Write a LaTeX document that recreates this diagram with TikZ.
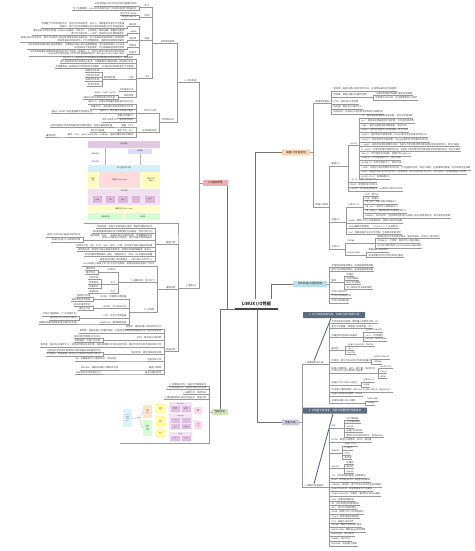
\documentclass[tikz,border=0pt]{standalone}
\usepackage{fontspec}
\newfontfamily\cjk{Noto Sans CJK SC}
\definecolor{cA}{HTML}{F2AEAE}
\definecolor{cO}{HTML}{F9D2AC}
\definecolor{cL}{HTML}{B3E0EA}
\definecolor{cD}{HTML}{5E6982}
\definecolor{cP}{HTML}{C9C5DE}
\definecolor{cG}{HTML}{D2E4B4}
\tikzset{
  every node/.style={font=\cjk\fontsize{2.3}{2.75}\selectfont},
  ul/.style={draw=black!40,line width=0.22pt},
  cn/.style={draw=black!40,line width=0.22pt},
  mcn/.style={draw=black!55,line width=0.5pt},
  lf/.style={inner xsep=0.5pt,inner ysep=0.45pt,text=black!72,
    append after command={(\tikzlastnode.south west) edge[ul] (\tikzlastnode.south east)}},
  topic/.style={font=\cjk\fontsize{2.6}{3}\selectfont,inner xsep=1pt,inner ysep=0.6pt,
    minimum height=5.6pt,rounded corners=0.5pt,text=black!85},
  dbox/.style={topic,fill=cD,text=white,minimum height=6pt},
  diag/.style={draw=cD,line width=0.9pt},
  im/.style={font=\cjk\fontsize{1.8}{2.1}\selectfont,inner sep=0pt,text=black!75,align=center},
  imt/.style={font=\cjk\fontsize{1.2}{1.45}\selectfont,inner sep=0pt,text=black!70,align=center},
}
\newcommand\LL[5]{\node[lf,anchor=south east,align=right] (#1) at (#3,#4) {#5};
  \draw[cn] (#2) -| ([xshift=2pt]#1.south east) -- (#1.south east);}
\newcommand\RL[5]{\node[lf,anchor=south west,align=left] (#1) at (#3,#4) {#5};
  \draw[cn] (#2) -| ([xshift=-2pt]#1.south west) -- (#1.south west);}
\begin{document}
\begin{tikzpicture}[x=1pt,y=-1pt]
\fill[white] (0,0) rectangle (474,551);
\useasboundingbox (0,0) rectangle (474,551);

% ---------- centre ----------
\node[font=\cjk\fontsize{4.3}{5}\selectfont\bfseries,inner xsep=7pt,inner ysep=2.6pt,text=black!85,anchor=south] (C) at (256.5,309) {LINUX I/O性能};
\draw[line width=1.1pt,black!72] (C.south west) -- (C.south east);

% ---------- main topics ----------
\node[topic,fill=cA,minimum width=25pt] (A) at (215.5,183) {I/O基础原理};
\node[topic,fill=cG,minimum width=16pt] (G) at (220,412) {性能优化};
\node[topic,fill=cO,minimum width=28pt] (O) at (296,152.5) {磁盘I/O性能观测};
\node[topic,fill=cL,minimum width=34pt] (L) at (310,284) {文件系统I/O性能观测};
\node[topic,fill=cP,minimum width=17pt] (P) at (290.5,422.5) {性能工具};
\node[dbox,minimum width=62pt] (D1) at (334,315) {1. 从I/O性能指标出发，找到对应的性能工具};
\node[dbox,minimum width=64pt] (D2) at (335,410.5) {2. 从性能工具出发，找到工具提供的性能指标};

\draw[mcn] ([xshift=-1pt]C.north) |- (O.west);
\draw[mcn] ([xshift=1pt]C.south) |- (P.west);
\draw[mcn] ([xshift=-7pt]C.north east) |- (L.west);
\draw[mcn] (C.south west) -| ([xshift=-1pt]A.south east);
\draw[mcn] (C.south west) -| (G.north);

% ================= RIGHT: disk =================
\RL{O1}{O.east}{315}{103}{磁盘性能指标}
\RL{O2}{O.east}{315}{207}{磁盘I/O观测}
\RL{o11}{O1.south east}{333}{91}{使用率：磁盘处理I/O的时间百分比，过高意味着存在性能瓶颈}
\RL{o12}{O1.south east}{333}{97}{饱和度：磁盘处理I/O的繁忙程度}
\RL{o121}{o12.south east}{375}{95}{过高的饱和度意味着严重的性能瓶颈}
\RL{o122}{o12.south east}{375}{100}{饱和度为100\%时，无法接受新的I/O请求}
\RL{o13}{O1.south east}{333}{104}{IOPS：每秒的I/O请求数}
\RL{o14}{O1.south east}{333}{109}{吞吐量：每秒的I/O请求大小}
\RL{o15}{O1.south east}{333}{114}{响应时间：从发出I/O请求到收到响应的间隔时间}

\RL{o21}{O2.south east}{331}{166}{磁盘I/O}
\RL{o22}{O2.south east}{331}{222}{进程I/O}
\RL{o23}{O2.south east}{331}{249}{文件I/O}
\RL{ios}{o21.south east}{350}{145}{iostat}
\RL{o212}{o21.south east}{350}{182}{sar -d：磁盘I/O历史统计}
\RL{o213}{o21.south east}{350}{187}{dstat：综合观测CPU和I/O}
\RL{o214}{o21.south east}{350}{191}{vmstat：bi/bo块设备读写，wa等待I/O的CPU时间}
\RL{r1}{ios.south east}{361}{118}{r/s：每秒发送给磁盘的读请求数，合并后的请求数}
\RL{r2}{ios.south east}{361}{123}{w/s：每秒发送给磁盘的写请求数，合并后的请求数}
\RL{r3}{ios.south east}{361}{128}{rkB/s：每秒从磁盘读取的数据量，单位为kB}
\RL{r4}{ios.south east}{361}{132}{wkB/s：每秒向磁盘写入的数据量，单位为kB}
\RL{r5}{ios.south east}{361}{137}{rrqm/s：每秒合并的读请求数，\%rrqm表示合并读请求的百分比}
\RL{r6}{ios.south east}{361}{142}{wrqm/s：每秒合并的写请求数，\%wrqm表示合并写请求的百分比}
\RL{r7}{ios.south east}{361}{146}{r\_await：读请求处理完成等待时间，包括队列中的等待时间和设备实际处理的时间，单位为毫秒}
\RL{r8}{ios.south east}{361}{151}{w\_await：写请求处理完成等待时间，包括队列中的等待时间和设备实际处理的时间，单位为毫秒}
\RL{r9}{ios.south east}{361}{156}{aqu-sz：平均请求队列长度，旧版中为avgqu-sz}
\RL{r10}{ios.south east}{361}{160}{rareq-sz：平均读请求大小，单位为kB}
\RL{r11}{ios.south east}{361}{165}{wareq-sz：平均写请求大小，单位为kB}
\RL{r12}{ios.south east}{361}{170}{svctm：处理I/O请求所需的平均时间，不包括等待时间，单位为毫秒；这是推断的数据，并不保证完全准确}
\RL{r13}{ios.south east}{361}{174}{\%util：磁盘处理I/O的时间百分比，即使用率，由于可能存在并行I/O，100\%并不一定表明磁盘I/O饱和}
\RL{r14}{ios.south east}{361}{179}{iostat -d -x 1：查看磁盘I/O}

\RL{pds}{o22.south east}{348}{207}{pidstat -d}
\RL{pd1}{pds.south east}{365}{196}{UID：用户ID}
\RL{pd2}{pds.south east}{365}{200}{PID：进程ID}
\RL{pd3}{pds.south east}{365}{204}{kB\_rd/s：每秒读取的数据大小}
\RL{pd4}{pds.south east}{365}{209}{kB\_wr/s：每秒写入的数据大小}
\RL{pd5}{pds.south east}{365}{213}{kB\_ccwr/s：每秒取消的写请求数据大小}
\RL{pd6}{pds.south east}{365}{218}{iodelay：块I/O延迟，包括等待同步块I/O和换入块I/O结束的时间，单位是时钟周期}
\RL{o222}{o22.south east}{348}{223}{iotop：按照I/O大小对进程排序，找到I/O较大的进程}
\RL{o223}{o22.south east}{348}{228.5}{strace跟踪系统调用}
\RL{o2231}{o223.south east}{373}{228.5}{strace -f -T -tt -p 进程号}
\RL{o224}{o22.south east}{348}{234}{lsof：查看进程打开的文件列表，包括目录和套接字}

\RL{fto}{o23.south east}{347}{243}{filetop}
\RL{ft1}{fto.south east}{377}{238}{跟踪内核中文件的读写情况，输出线程ID、读写大小和文件名}
\RL{ft2}{fto.south east}{377}{243}{filetop -C：不清屏，按读写大小排序输出}
\RL{ft3}{fto.south east}{377}{248}{位于bcc软件包的/usr/share/bcc/tools目录}
\RL{ops}{o23.south east}{347}{255}{opensnoop}
\RL{op1}{ops.south east}{368}{252}{跟踪open系统调用}
\RL{op2}{ops.south east}{368}{257}{找出频繁打开的文件及其所在路径}

% ================= RIGHT: file system =================
\RL{l1}{L.east}{331}{267}{存储空间的使用情况，包括容量和使用量}
\RL{l2}{L.east}{331}{271}{索引节点的使用情况，包括容量和使用量}
\RL{l3}{L.east}{331}{282}{缓存}
\RL{l31}{l3.south east}{346}{276}{页缓存}
\RL{l32}{l3.south east}{346}{280}{目录项缓存}
\RL{l33}{l3.south east}{346}{284}{索引节点缓存}
\RL{l34}{l3.south east}{346}{289}{各个具体文件系统的缓存}
\RL{l4}{L.east}{331}{294}{文件I/O的IOPS}
\RL{l5}{L.east}{331}{298}{文件I/O的响应时间}
\RL{l6}{L.east}{331}{303}{文件I/O的吞吐量}

% ================= RIGHT: tools =================
\RL{P1}{P.east}{304}{364}{1. 根据指标找工具}
\RL{P2}{P.east}{304}{487}{2. 根据工具查指标}
\draw[diag] ([xshift=-3pt]D1.south) -- (P1.north);
\draw[diag] ([xshift=-2pt]D2.south) -- (P2.north);

\RL{p11}{P1.south east}{331}{323}{文件系统空间容量、使用量以及剩余空间：df}
\RL{p12}{P1.south east}{331}{328}{索引节点容量、使用量以及剩余量：df -i}
\RL{p13}{P1.south east}{331}{337}{页缓存和可回收Slab缓存}
\RL{p131}{p13.south east}{365}{332}{/proc/meminfo}
\RL{p132}{p13.south east}{365}{337}{sar -r：内存使用}
\RL{p133}{p13.south east}{365}{341}{vmstat：buff/cache}
\RL{p14}{P1.south east}{331}{350}{缓冲区}
\RL{p141}{p14.south east}{347}{346.5}{/proc/meminfo：Buffers}
\RL{p142}{p14.south east}{347}{350.5}{sar -r}
\RL{p143}{p14.south east}{347}{354.5}{vmstat}
\RL{p15}{P1.south east}{331}{362}{目录项、索引节点以及文件系统的缓存}
\RL{p151}{p15.south east}{373}{359}{/proc/slabinfo}
\RL{p152}{p15.south east}{373}{364}{slabtop}
\RL{p16}{P1.south east}{331}{373}{磁盘I/O使用率、IOPS、吞吐量、响应时间、\\I/O平均大小以及等待队列长度}
\RL{p161}{p16.south east}{380}{368}{iostat -d -x}
\RL{p162}{p16.south east}{380}{373}{sar -d}
\RL{p163}{p16.south east}{380}{378}{dstat}
\RL{p17}{P1.south east}{331}{385}{进程I/O大小以及I/O延迟}
\RL{p171}{p17.south east}{363}{382}{pidstat -d}
\RL{p172}{p17.south east}{363}{387}{iotop}
\RL{p18}{P1.south east}{331}{392}{块设备I/O事件跟踪：blktrace -d /dev/sdb -o- | blkparse -i-}
\RL{p19}{P1.south east}{331}{396}{进程I/O系统调用跟踪：strace}
\RL{p1a}{P1.south east}{331}{403}{进程块设备I/O大小跟踪}
\RL{p1a1}{p1a.south east}{367}{401}{biosnoop}
\RL{p1a2}{p1a.south east}{367}{405}{biotop}

\RL{q1}{P2.south east}{331}{428}{top}
\RL{q11}{q1.south east}{346}{420}{CPU使用率}
\RL{q12}{q1.south east}{346}{423.5}{内存使用情况}
\RL{q13}{q1.south east}{346}{428}{iowait}
\RL{q14}{q1.south east}{346}{432}{进程CPU和内存}
\RL{q15}{q1.south east}{346}{437}{整体CPU时间的百分比，包括iowait}
\RL{q2}{P2.south east}{331}{442}{iostat：磁盘I/O使用率、IOPS、吞吐量}
\RL{q3}{P2.south east}{331}{453}{pidstat}
\RL{q31}{q3.south east}{344}{446}{进程I/O大小}
\RL{q32}{q3.south east}{344}{450}{I/O延迟}
\RL{q33}{q3.south east}{344}{455}{IOPS}
\RL{q34}{q3.south east}{344}{459}{吞吐量}
\RL{q4}{P2.south east}{331}{468}{vmstat}
\RL{q41}{q4.south east}{346}{464}{页缓存}
\RL{q42}{q4.south east}{346}{468}{缓冲区}
\RL{q43}{q4.south east}{346}{473}{iowait}
\RL{q5}{P2.south east}{331}{478}{sar：文件系统和磁盘I/O使用情况}
\RL{q6}{P2.south east}{331}{482}{dstat：综合观测CPU、磁盘I/O和网络}
\RL{q7}{P2.south east}{331}{487}{slabtop：目录项、索引节点以及文件系统的缓存}
\RL{q8}{P2.south east}{331}{491}{/proc/slabinfo：目录项和索引节点缓存}
\RL{q9}{P2.south east}{331}{496}{/proc/meminfo：页缓存、缓冲区以及Slab缓存}
\RL{q10}{P2.south east}{331}{501}{free：页缓存和缓冲区}
\RL{q11b}{P2.south east}{331}{505}{df：文件系统空间使用情况}
\RL{q12b}{P2.south east}{331}{509}{df -i：索引节点使用情况}
\RL{q13b}{P2.south east}{331}{514}{iotop：按照I/O大小对进程排序}
\RL{q14b}{P2.south east}{331}{518}{strace：跟踪进程系统调用}
\RL{q15b}{P2.south east}{331}{523}{lsof：进程打开的文件}
\RL{q16}{P2.south east}{331}{527}{filetop：跟踪文件的读写情况}
\RL{q17}{P2.south east}{331}{532}{opensnoop：跟踪open系统调用}
\RL{q18}{P2.south east}{331}{536}{biosnoop：块I/O延迟}
\RL{q19}{P2.south east}{331}{541}{biotop：块I/O大小}
\RL{q20}{P2.south east}{331}{546}{blktrace：块设备I/O事件}

% ================= LEFT: basics =================
\LL{A1}{A.west}{197}{82}{1. 文件系统}
\LL{A4}{A.west}{197}{288}{2. 磁盘I/O}

\LL{B11}{A1.south west}{175}{43}{文件系统基础}
\LL{B12}{A1.south west}{175}{122}{文件系统I/O}

\LL{C1}{B11.south west}{150}{7}{定义}
\LL{C2}{B11.south west}{150}{17}{结构}
\LL{C3}{B11.south west}{150}{40}{组成}
\LL{C4}{B11.south west}{150}{78}{VFS}
\LL{c11}{C1.south west}{137}{5.7}{对存储设备上的文件进行组织管理的机制}
\LL{c12}{C1.south west}{137}{10}{为了方便管理，Linux文件系统为每个文件都分配两个数据结构}
\LL{c21}{C2.south west}{137}{15}{索引节点 inode}
\LL{c22}{C2.south west}{137}{19}{目录项 dentry}
\LL{c31}{C3.south west}{137}{26}{超级块}
\LL{c32}{C3.south west}{137}{33}{inode}
\LL{c33}{C3.south west}{137}{40}{目录项}
\LL{c34}{C3.south west}{137}{47}{逻辑块}
\LL{c35}{C3.south west}{137}{54}{挂载点}
\LL{c311}{c31.south west}{125}{28}{存储整个文件系统的状态，包括文件系统类型、块大小、块数量以及索引节点数量\\超级块、索引节点区和数据块区共同构成磁盘上的文件系统格式}
\LL{c321}{c32.south west}{125}{35}{用来记录文件的元数据，比如inode编号、文件大小、访问权限、修改日期、数据的位置等\\索引节点和文件一一对应，会被持久化存储到磁盘中}
\LL{c331}{c33.south west}{125}{42}{用来记录文件的名字、索引节点指针以及与其他目录项的关联关系，多个关联的目录项构成了目录结构\\目录项是由内核维护的一个内存数据结构，通常也叫做目录项缓存}
\LL{c341}{c34.south west}{125}{49}{文件系统把连续的扇区组成逻辑块，以逻辑块为最小单元来管理数据，常见的逻辑块大小为4KB\\由连续的8个扇区组成，可以提高磁盘的读写效率}
\LL{c351}{c35.south west}{125}{56}{文件系统需要先挂载到目录树中的某个子目录（挂载点）上，然后才能访问其中的文件和目录\\mount命令把块设备上的文件系统挂载到目录，如 mount /dev/sdb1 /data}

\LL{c41}{C4.south west}{134}{59}{VFS定义了一组所有文件系统都支持的数据结构和标准接口，屏蔽差异}
\LL{c42}{C4.south west}{134}{63}{用户进程和内核中的其他子系统，只需要跟VFS提供的统一接口进行交互}
\LL{c43}{C4.south west}{134}{68}{不需要再关心底层各种文件系统的实现细节，VFS通过目录项和索引节点管理}
\LL{c44}{C4.south west}{134}{79}{分类}
\LL{c441}{c44.south west}{116}{79}{按存储位置}
\LL{c4411}{c441.south west}{100}{72}{磁盘文件系统}
\LL{c4412}{c441.south west}{100}{77}{内存文件系统}
\LL{c4413}{c441.south west}{100}{81}{网络文件系统}
\LL{c4414}{c441.south west}{100}{86}{伪文件系统}
\LL{c45}{C4.south west}{134}{91}{文件读写方式}
\LL{c46}{C4.south west}{134}{97}{系统调用}
\LL{c461}{c46.south west}{116}{95}{open、read、write}
\LL{c462}{c46.south west}{116}{99.5}{通过VFS转交给具体的文件系统}

\LL{F1}{B12.south west}{157}{113}{文件I/O分类}
\LL{F2}{B12.south west}{157}{132}{文件系统观测}
\LL{f11}{F1.south west}{134}{104}{缓冲I/O：利用标准库缓存来加速文件的访问}
\LL{f12}{F1.south west}{134}{109}{非缓冲I/O：直接通过系统调用来访问文件}
\LL{f13}{F1.south west}{134}{113}{直接I/O：跳过操作系统的页缓存}
\LL{f131}{f13.south west}{93}{113}{通过O\_DIRECT标志直接跟文件系统交互}
\LL{f14}{F1.south west}{134}{118}{阻塞/非阻塞I/O}
\LL{f15}{F1.south west}{134}{122}{同步与异步I/O：是否等待响应}
\LL{f21}{F2.south west}{134}{127}{容量：df -h}
\LL{f211}{f21.south west}{113}{127}{df命令查看文件系统的磁盘空间使用情况，包括总量和剩余量}
\LL{f22}{F2.south west}{134}{132}{索引节点：df -i}
\LL{f221}{f22.south west}{105}{132}{索引节点容量}
\LL{f23}{F2.south west}{134}{137}{缓存：free、/proc/meminfo、slabtop，查看页缓存和Slab缓存}
\LL{f231}{f23.south west}{56}{137}{缓存观测}

% ---- I/O stack picture ----
\node[inner sep=0pt,minimum width=77pt,minimum height=83pt] (IMG) at (122.5,181.5) {};
\draw[ul] (IMG.south west) -- (IMG.south east);
\fill[yellow!8] (88,141) rectangle (160,220);
\fill[violet!22] (88,141) rectangle (160,147.5);
\node[im] (i1) at (124,144.2) {应用程序};
\fill[white] (88,147.5) rectangle (160,165);
\draw[black!30,line width=0.2pt] (105,147.5) -- (105,165);
\draw[black!30,line width=0.2pt] (140,154) -- (140,165);
\node[im] (i2) at (95,154) {系统调用};
\node[im] (i3) at (95,161.5) {文件读写};
\fill[blue!14] (128,148.5) rectangle (152,154);
\node[im] (i4) at (140,151.2) {标准库};
\fill[cyan!18] (88,165) rectangle (160,171.5);
\node[im] (i5) at (124,168.2) {VFS 虚拟文件系统};
\fill[yellow!28] (88,172) rectangle (98,188);
\node[im] (i6) at (93,180) {目录\\项};
\fill[pink!55] (99,172) rectangle (140,188);
\node[im] (i7) at (119.5,180) {页缓存 Page Cache};
\fill[yellow!28] (142,172) rectangle (160,188);
\node[im] (i8) at (151,180) {索引节点\\缓存};
\fill[violet!12] (88,189) rectangle (160,205);
\node[im] (i9) at (124,191.3) {文件系统};
\fill[violet!28] (93,196) rectangle (102,203); \node[im] (fs1) at (97.5,199.5) {ext4};
\fill[violet!28] (106,196) rectangle (115,203); \node[im] (fs2) at (110.5,199.5) {XFS};
\fill[violet!28] (118,196) rectangle (128,203); \node[im] (fs3) at (123,199.5) {NFS};
\fill[violet!28] (132,196) rectangle (140,203); \node[im] (fs4) at (136,199.5) {...};
\fill[violet!28] (145,196) rectangle (155,203); \node[im] (fs5) at (150,199.5) {proc};
\fill[yellow!22] (88,206) rectangle (160,212);
\node[im] (i10) at (124,209) {通用块层 Block Layer};
\fill[green!18] (88,213) rectangle (123,220); \node[im] (i11) at (105.5,216.5) {设备驱动层};
\fill[green!18] (125,213) rectangle (160,220); \node[im] (i12) at (142.5,216.5) {块设备};

\LL{A41}{A4.south west}{176}{244}{磁盘分类}
\LL{A42}{A4.south west}{176}{289}{通用块层}
\LL{A43}{A4.south west}{176}{351}{性能指标}
\draw[cn] (A4.south west) -| ([xshift=2pt]A41.south east) |- (IMG.south east);

\LL{a411}{A41.south west}{153}{228}{机械磁盘：由盘片和读写磁头组成，数据存储在磁道中}
\LL{a412}{A41.south west}{153}{233}{读写前需要移动磁头定位到数据所在的磁道，然后才能访问}
\LL{a413}{A41.south west}{153}{240}{固态磁盘（SSD）：由固态电子元器件组成，不需要磁道寻址\\连续I/O比随机I/O性能好，都可以通过预读来提升}
\LL{a4131}{a413.south west}{81}{237}{连续I/O可以减少磁道寻址的时间}
\LL{a4132}{a413.south west}{81}{242}{预读可以减少I/O请求的次数}
\LL{a414}{A41.south west}{153}{247}{按接口分类：IDE、SCSI、SAS、SATA、FC等，会分配不同的设备名称前缀}
\LL{a415}{A41.south west}{153}{251}{按架构分类：直接作为独立磁盘设备使用，或者组合成逻辑磁盘（RAID）}
\LL{a416}{A41.south west}{153}{256}{作为网络存储集群的一部分，再通过NFS、SMB、iSCSI等协议暴露}
\LL{a417}{A41.south west}{153}{261}{磁盘读写的最小单位是扇区，一般只有512字节大小}

\LL{K0}{A42.south west}{155}{266}{Linux存储I/O栈由上到下分为文件系统层、通用块层和设备层三个层次}
\LL{K1}{A42.south west}{155}{282}{1. 通用块层：承上启下}
\LL{K2}{A42.south west}{155}{312}{2. I/O调度}
\LL{k11}{K1.south west}{116}{272}{I/O排队}
\LL{k111}{k11.south west}{96}{270}{重新排序}
\LL{k112}{k11.south west}{96}{274}{请求合并}
\LL{k12}{K1.south west}{116}{284}{向上}
\LL{k121}{k12.south west}{99}{279}{文件系统}
\LL{k122}{k12.south west}{99}{284}{应用程序}
\LL{k123}{k12.south west}{99}{288}{标准接口}
\LL{k13}{K1.south west}{116}{293}{向下}
\LL{k131}{k13.south west}{99}{293}{设备驱动}
\LL{k21}{K2.south west}{127}{299}{NONE：不使用I/O调度器}
\LL{k211}{k21.south west}{91}{297}{虚拟机中常用}
\LL{k212}{k21.south west}{91}{301}{由物理机负责调度}
\LL{k22}{K2.south west}{127}{308}{NOOP：先入先出队列}
\LL{k221}{k22.south west}{91}{306}{基本的请求合并}
\LL{k222}{k22.south west}{91}{310}{常用于SSD}
\LL{k23}{K2.south west}{127}{318}{CFQ：完全公平调度器}
\LL{k231}{k23.south west}{77}{316}{为每个进程维护一个I/O调度队列}
\LL{k232}{k23.south west}{77}{320}{按时间片均匀分布I/O请求}
\LL{k24}{K2.south west}{127}{324}{DeadLine：最终期限调度}
\LL{k241}{k24.south west}{77}{324}{确保达到最终期限的请求被优先处理}

\LL{a431}{A43.south west}{162}{329}{使用率：磁盘处理I/O的时间百分比}
\LL{a432}{A43.south west}{162}{333}{饱和度：磁盘处理I/O的繁忙程度，过高的饱和度意味着磁盘存在严重的性能瓶颈}
\LL{a433}{A43.south west}{162}{340}{IOPS：每秒的I/O请求数}
\LL{a4331}{a433.south west}{101}{338}{随机读写场景更关注IOPS}
\LL{a4332}{a433.south west}{101}{342}{如数据库、大量小文件等}
\LL{a434}{A43.south west}{162}{347}{吞吐量：每秒的I/O请求大小，顺序读写更关注吞吐量，如多媒体等大文件的读写场景，需综合考虑实际场景的读写比例}
\LL{a435}{A43.south west}{162}{354}{响应时间：请求到响应的间隔}
\LL{a4351}{a435.south west}{101}{352}{包括在队列中排队等待的时间和设备实际处理的时间}
\LL{a4352}{a435.south west}{101}{356}{队列越长、处理越慢，都会让I/O请求的响应时间变长}
\LL{a436}{A43.south west}{162}{361}{性能测试工具}
\LL{a4361}{a436.south west}{117}{361}{fio：对磁盘进行I/O基准测试，评估性能}
\LL{a437}{A43.south west}{162}{370}{磁盘I/O跟踪}
\LL{a4371}{a437.south west}{119}{370}{blktrace：跟踪块设备I/O事件并记录}
\LL{a438}{A43.south west}{162}{374}{顺序与随机读写}
\LL{a4381}{a438.south west}{102}{374}{关注读写比例和请求大小}

% ================= LEFT: optimisation =================
\LL{g1}{G.west}{207}{386}{1. 应用程序优化：追加写代替随机写}
\LL{g2}{G.west}{207}{389.5}{2. 文件系统优化：选择合适的文件系统}
\LL{g3}{G.west}{207}{394}{3. 磁盘优化：换用SSD}
\LL{g4}{G.west}{207}{399}{4. 根据指标和工具的对应关系，逐层分析}
\node[inner sep=0pt,minimum width=88pt,minimum height=42pt] (IMG2) at (164,422) {};
\draw[ul] (IMG2.south west) -- (IMG2.south east);
\draw[cn] (G.west) -| ([xshift=2pt]g1.south east) |- (IMG2.south east);
\fill[cyan!15] (123,409) rectangle (132,427);
\node[imt] (j1) at (127.5,418) {iostat\\pidstat\\sar\\iotop\\strace};
\node[imt] (j0) at (138,418.3) {观测};
\draw[cn] (j1.east) -- (j0.west);
\draw[cn] (j0.east) -- (143,411.5);
\draw[cn] (j0.east) -- (143,428);
\fill[orange!22] (143,405) rectangle (152,418);
\node[imt] (j2) at (147.5,411.5) {应用\\文件\\系统};
\fill[green!18] (143,420) rectangle (152,436);
\node[imt] (j3) at (147.5,428) {磁盘\\设备\\驱动\\块层};
\fill[yellow!38] (156,404) rectangle (165,413); \node[imt] (j4) at (160.5,408.5) {应用\\程序};
\fill[yellow!38] (156,416) rectangle (165,427); \node[imt] (j5) at (160.5,421.5) {文件\\系统};
\fill[yellow!38] (156,429) rectangle (165,438); \node[imt] (j6) at (160.5,433.5) {磁盘};
\fill[violet!10] (169,402) rectangle (192,413); \node[imt] (j7) at (180.5,403.9) {应用程序优化};
\fill[violet!25] (170.5,405.5) rectangle (180,412); \fill[violet!25] (181.5,405.5) rectangle (191,412);
\node[imt] (j7a) at (175.25,408.75) {追加写\\mmap}; \node[imt] (j7b) at (186.25,408.75) {缓存\\异步I/O};
\fill[violet!10] (169,414) rectangle (192,430); \node[imt] (j8) at (180.5,415.9) {文件系统优化};
\fill[violet!25] (170.5,417.5) rectangle (180,423); \fill[violet!25] (181.5,417.5) rectangle (191,423);
\fill[violet!25] (170.5,424) rectangle (180,429.3); \fill[violet!25] (181.5,424) rectangle (191,429.3);
\node[imt] (j8a) at (175.25,420.25) {ext4}; \node[imt] (j8b) at (186.25,420.25) {xfs};
\node[imt] (j8c) at (175.25,426.6) {日志}; \node[imt] (j8d) at (186.25,426.6) {挂载选项};
\fill[violet!10] (169,432) rectangle (192,442); \node[imt] (j9) at (180.5,433.9) {磁盘优化};
\fill[violet!25] (170.5,435.5) rectangle (180,441); \fill[violet!25] (181.5,435.5) rectangle (191,441);
\node[imt] (j9a) at (175.25,438.25) {SSD}; \node[imt] (j9b) at (186.25,438.25) {RAID};
\fill[magenta!15] (194,407) rectangle (202,414); \node[imt] (j10) at (198,410.5) {性能\\指标};
\fill[magenta!15] (194,421) rectangle (202,429); \node[imt] (j11) at (198,425) {性能\\工具};
\end{tikzpicture}
\end{document}
